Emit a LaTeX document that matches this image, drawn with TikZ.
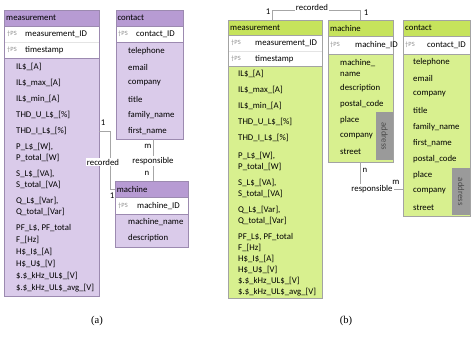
\documentclass[tikz,border=0pt]{standalone}
\usepackage{fontspec}
\setmainfont{Carlito}
\newfontfamily\capfont{Liberation Serif}
\usepackage{xcolor}
\definecolor{ERPurpleHead}{HTML}{B79BD3}
\definecolor{ERPurple}{HTML}{DACBEA}
\definecolor{ERPurpleLine}{HTML}{9C8AB0}
\definecolor{ERGreenHead}{HTML}{C6E35C}
\definecolor{ERGreen}{HTML}{D8F08F}
\definecolor{ERGreenLine}{HTML}{A3A3A3}
\definecolor{ERGrey}{HTML}{9A9A9A}
\definecolor{ERLink}{HTML}{A6A6A6}
\definecolor{ERKey}{HTML}{8C8C8C}
\definecolor{ERSep}{HTML}{E4E4E4}
\tikzset{
  tab/.style={draw=#1,line width=.4pt,inner sep=0pt,anchor=north west},
  attr/.style={anchor=west,inner sep=0pt,font=\fontsize{7.5}{9.4}\selectfont,align=left},
  keytag/.style={anchor=west,inner sep=0pt,text=ERKey,font=\fontsize{5.5}{6}\selectfont},
  link/.style={draw=ERLink,line width=.5pt},
  card/.style={inner sep=1pt,font=\fontsize{7.5}{9}\selectfont},
  rel/.style={fill=white,inner sep=1pt,font=\fontsize{7.5}{9}\selectfont},
  addr/.style={fill=ERGrey,anchor=north west,inner sep=0pt},
  addrtext/.style={rotate=-90,inner sep=0pt,text=black!70,font=\fontsize{7.5}{9}\selectfont},
}

\begin{document}
\begin{tikzpicture}[x=1cm,y=1cm]
\path[use as bounding box] (0,0) rectangle (14.22,10.41);

% ---- (a) measurement
\fill[ERPurple] (0.12,8.67) rectangle (2.97,1.53);
\fill[white] (0.12,9.63) rectangle (2.97,8.67);
\fill[ERPurpleHead] (0.12,10.11) rectangle (2.97,9.63);
\draw[ERSep] (0.12,9.15) -- (2.97,9.15);
\draw[ERPurpleLine] (0.12,9.63) -- (2.97,9.63);
\draw[ERPurpleLine] (0.12,8.67) -- (2.97,8.67);
\node[tab=ERPurpleLine,minimum width=2.85cm,minimum height=8.58cm] (measA) at (0.12,10.11) {};
\node[attr] (measA-hd) at (0.18,9.87) {measurement};
\node[keytag] (measA-k1) at (0.21,9.39) {\textdagger PS};
\node[attr] (measA-id) at (0.75,9.39) {measurement\_ID};
\node[keytag] (measA-k2) at (0.21,8.91) {\textdagger PS};
\node[attr] (measA-ts) at (0.75,8.91) {timestamp};
\foreach \y/\t [count=\i] in {8.40/IL\$\_[A], 7.92/IL\$\_max\_[A], 7.44/IL\$\_min\_[A],
    6.96/THD\_U\_L\$\_[\%], 6.48/THD\_I\_L\$\_[\%], 5.835/{P\_L\$\_[W],\\P\_total\_[W]},
    5.025/{S\_L\$\_[VA],\\S\_total\_[VA]}, 4.23/{Q\_L\$\_[Var],\\Q\_total\_[Var]},
    3.57/{PF\_L\$, PF\_total}, 3.21/F\_[Hz], 2.85/H\$\_I\$\_[A], 2.49/H\$\_U\$\_[V],
    2.13/\$.\$\_kHz\_UL\$\_[V], 1.77/\$.\$\_kHz\_UL\$\_avg\_[V]}
  \node[attr] (measA-\i) at (0.48,\y) {\t};

% ---- (a) contact
\fill[ERPurple] (3.48,9.15) rectangle (5.49,6.24);
\fill[white] (3.48,9.63) rectangle (5.49,9.15);
\fill[ERPurpleHead] (3.48,10.11) rectangle (5.49,9.63);
\draw[ERPurpleLine] (3.48,9.63) -- (5.49,9.63);
\draw[ERPurpleLine] (3.48,9.15) -- (5.49,9.15);
\node[tab=ERPurpleLine,minimum width=2.01cm,minimum height=3.87cm] (contA) at (3.48,10.11) {};
\node[attr] (contA-hd) at (3.52,9.87) {contact};
\node[keytag] (contA-k1) at (3.54,9.39) {\textdagger PS};
\node[attr] (contA-id) at (4.08,9.39) {contact\_ID};
\foreach \y/\t [count=\i] in {8.88/telephone, 8.40/email, 7.92/company, 7.44/title,
    6.96/family\_name, 6.48/first\_name}
  \node[attr] (contA-\i) at (3.84,\y) {\t};

% ---- (a) machine
\fill[ERPurple] (3.45,3.99) rectangle (5.64,3.00);
\fill[white] (3.45,4.50) rectangle (5.64,3.99);
\fill[ERPurpleHead] (3.45,4.98) rectangle (5.64,4.50);
\draw[ERPurpleLine] (3.45,4.50) -- (5.64,4.50);
\draw[ERPurpleLine] (3.45,3.99) -- (5.64,3.99);
\node[tab=ERPurpleLine,minimum width=2.19cm,minimum height=1.98cm] (machA) at (3.45,4.98) {};
\node[attr] (machA-hd) at (3.50,4.74) {machine};
\node[keytag] (machA-k1) at (3.54,4.23) {\textdagger PS};
\node[attr] (machA-id) at (4.11,4.23) {machine\_ID};
\node[attr] (machA-1) at (3.84,3.75) {machine\_name};
\node[attr] (machA-2) at (3.84,3.27) {description};

% ---- (a) relations
\draw[link] (measA-5 -| measA.east) -- ++(0.33,0) |- (machA-hd -| machA.west);
\node[card] (recA-1) at (3.09,6.72) {1};
\node[rel] (recA) at (3.09,5.55) {recorded};
\node[card] (recA-2) at (3.36,4.53) {1};
\draw[link] ([xshift=3pt]contA.south) -- ([xshift=3pt]contA.south |- machA.north);
\node[card] (respA-1) at (4.44,6.03) {m};
\node[rel] (respA) at (4.59,5.58) {responsible};
\node[card] (respA-2) at (4.41,5.22) {n};
\node[font=\capfont\fontsize{9}{11}\selectfont] (labA) at (2.91,0.78) {(a)};

% ---- (b) measurement
\fill[ERGreen] (6.84,8.43) rectangle (9.66,1.47);
\fill[white] (6.84,9.36) rectangle (9.66,8.43);
\fill[ERGreenHead] (6.84,9.81) rectangle (9.66,9.36);
\draw[ERSep] (6.84,8.88) -- (9.66,8.88);
\draw[ERGreenLine] (6.84,9.36) -- (9.66,9.36);
\draw[ERGreenLine] (6.84,8.43) -- (9.66,8.43);
\node[tab=ERGreenLine,minimum width=2.82cm,minimum height=8.34cm] (measB) at (6.84,9.81) {};
\node[attr] (measB-hd) at (6.90,9.57) {measurement};
\node[keytag] (measB-k1) at (6.93,9.12) {\textdagger PS};
\node[attr] (measB-id) at (7.65,9.12) {measurement\_ID};
\node[keytag] (measB-k2) at (6.93,8.64) {\textdagger PS};
\node[attr] (measB-ts) at (7.65,8.64) {timestamp};
\foreach \y/\t [count=\i] in {8.19/IL\$\_[A], 7.71/IL\$\_max\_[A], 7.23/IL\$\_min\_[A],
    6.75/THD\_U\_L\$\_[\%], 6.27/THD\_I\_L\$\_[\%], 5.565/{P\_L\$\_[W],\\P\_total\_[W]},
    4.77/{S\_L\$\_[VA],\\S\_total\_[VA]}, 3.96/{Q\_L\$\_[Var],\\Q\_total\_[Var]},
    3.30/{PF\_L\$, PF\_total}, 2.97/F\_[Hz], 2.64/H\$\_I\$\_[A], 2.31/H\$\_U\$\_[V],
    1.98/\$.\$\_kHz\_UL\$\_[V], 1.65/\$.\$\_kHz\_UL\$\_avg\_[V]}
  \node[attr] (measB-\i) at (7.14,\y) {\t};

% ---- (b) machine
\fill[ERGreen] (9.84,8.79) rectangle (11.79,5.55);
\fill[white] (9.84,9.33) rectangle (11.79,8.79);
\fill[ERGreenHead] (9.84,9.81) rectangle (11.79,9.33);
\draw[ERGreenLine] (9.84,9.33) -- (11.79,9.33);
\draw[ERGreenLine] (9.84,8.79) -- (11.79,8.79);
\node[addr,minimum width=0.51cm,minimum height=1.44cm] (machB-ad) at (11.28,7.05) {};
\node[addrtext] (machB-adt) at (machB-ad.center) {address};
\node[tab=ERGreenLine,minimum width=1.95cm,minimum height=4.26cm] (machB) at (9.84,9.81) {};
\node[attr] (machB-hd) at (9.90,9.57) {machine};
\node[keytag] (machB-k1) at (9.90,9.06) {\textdagger PS};
\node[attr] (machB-id) at (10.65,9.06) {machine\_ID};
\foreach \y/\t [count=\i] in {8.37/{machine\_\\name}, 7.77/description, 7.29/postal\_code,
    6.81/place, 6.33/company, 5.85/street}
  \node[attr] (machB-\i) at (10.20,\y) {\t};

% ---- (b) contact
\fill[ERGreen] (12.09,8.79) rectangle (14.10,3.93);
\fill[white] (12.09,9.33) rectangle (14.10,8.79);
\fill[ERGreenHead] (12.09,9.81) rectangle (14.10,9.33);
\draw[ERGreenLine] (12.09,9.33) -- (14.10,9.33);
\draw[ERGreenLine] (12.09,8.79) -- (14.10,8.79);
\node[addr,minimum width=0.54cm,minimum height=1.41cm] (contB-ad) at (13.56,5.37) {};
\node[addrtext] (contB-adt) at (contB-ad.center) {address};
\node[tab=ERGreenLine,minimum width=2.01cm,minimum height=5.88cm] (contB) at (12.09,9.81) {};
\node[attr] (contB-hd) at (12.15,9.57) {contact};
\node[keytag] (contB-k1) at (12.15,9.06) {\textdagger PS};
\node[attr] (contB-id) at (12.81,9.06) {contact\_ID};
\foreach \y/\t [count=\i] in {8.55/telephone, 8.07/email, 7.59/company, 7.11/title,
    6.60/family\_name, 6.12/first\_name, 5.64/postal\_code, 5.16/place,
    4.68/company, 4.17/street}
  \node[attr] (contB-\i) at (12.39,\y) {\t};

% ---- (b) relations
\draw[link] ([xshift=-2.5pt]measB.north) -- ++(0,0.30) -| (machB.north);
\node[card] (recB-1) at (8.04,10.05) {1};
\node[rel] (recB) at (9.36,10.18) {recorded};
\node[card] (recB-2) at (10.98,10.02) {1};
\coordinate (respB-c) at (10.83,4.74);
\draw[link] (machB.south) |- (respB-c -| contB.west);
\node[card] (respB-1) at (10.95,5.31) {n};
\node[rel] (respB) at (11.16,4.74) {responsible};
\node[card] (respB-2) at (11.88,4.95) {m};
\node[font=\capfont\fontsize{9}{11}\selectfont] (labB) at (10.38,0.78) {(b)};
\end{tikzpicture}
\end{document}
